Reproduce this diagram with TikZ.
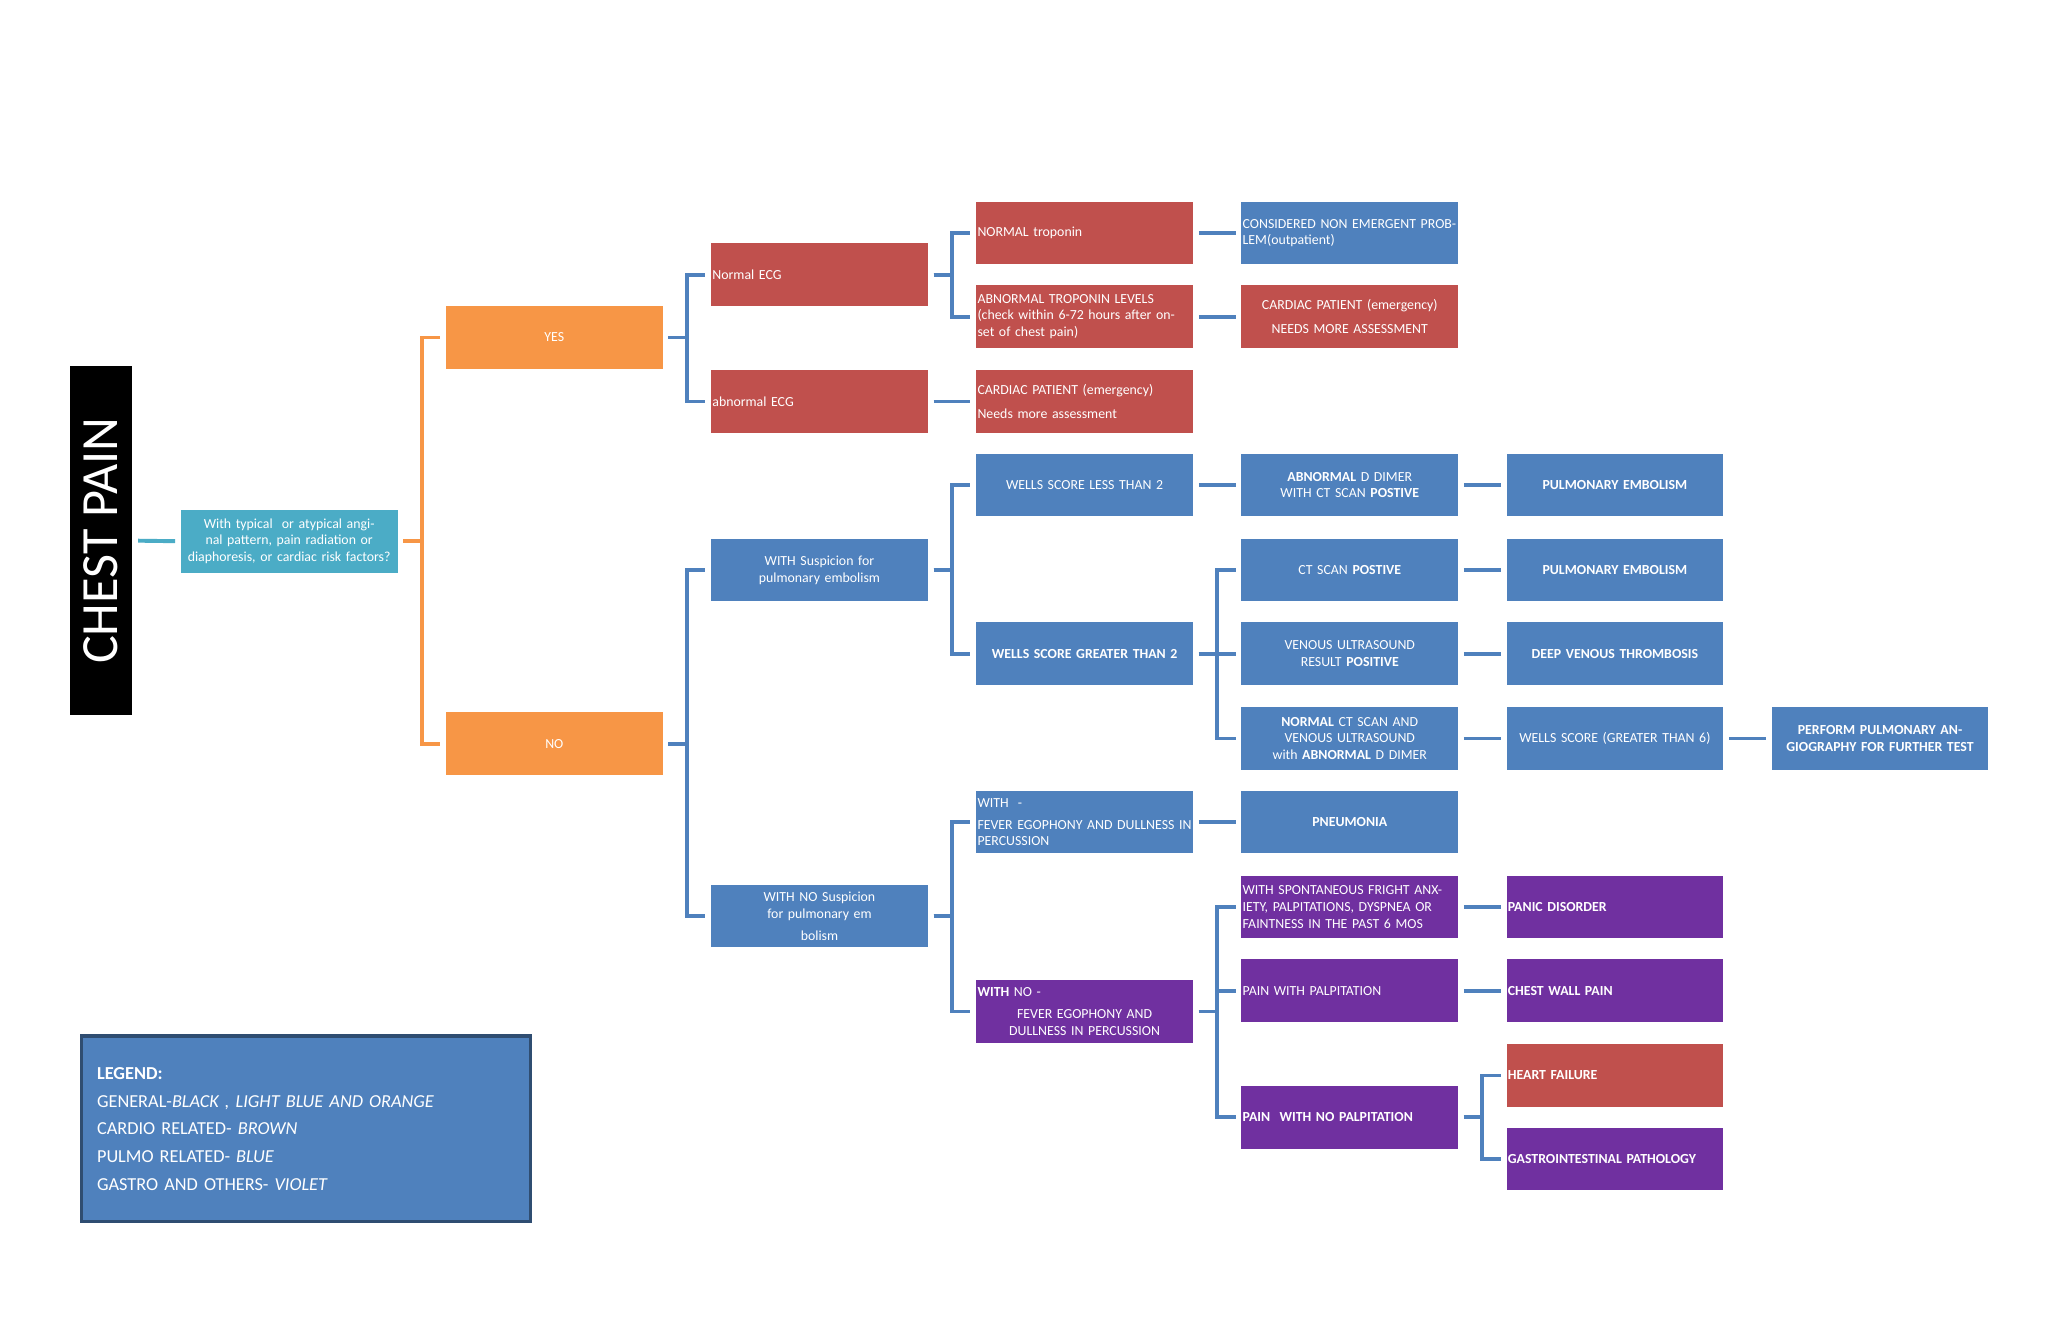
\documentclass[tikz,border=0pt]{standalone}
\usepackage{fontspec}
\setmainfont{Carlito}
\definecolor{cred}{HTML}{C0504D}
\definecolor{cblue}{HTML}{4F81BD}
\definecolor{cviol}{HTML}{7030A0}
\definecolor{corange}{HTML}{F79646}
\definecolor{cteal}{HTML}{4BACC6}
\begin{document}
\begin{tikzpicture}[x=0.5pt,y=-0.5pt,
  box/.style={anchor=north west,minimum width=83pt,minimum height=24pt,inner sep=0.5pt,text=white,font=\fontsize{5.3}{6.4}\selectfont,text width=82pt,align=center},
  lbox/.style={box,align=left},
  ln/.style={draw=cblue,line width=1.5pt,shorten <=2pt,shorten >=2pt},
  lo/.style={ln,draw=corange}]
\useasboundingbox (0,0) rectangle (1568,1025);
\fill[white] (0,0) rectangle (1568,1025);
\node[anchor=north west,fill=black,minimum width=24pt,minimum height=133.5pt,inner sep=0pt] (cp) at (53,280) {};
\node[rotate=90,text=white,font=\fontsize{20}{22}\selectfont] at (cp.center) {CHEST PAIN};
\node[box,fill=cteal] (intro) at (138,390) {With typical \ or atypical anginal pattern, pain radiation or diaphoresis, or cardiac risk factors?};
\node[box,fill=corange] (yes) at (341,234) {YES};
\node[box,fill=corange] (no) at (341,545) {NO};
\node[lbox,fill=cred] (necg) at (544,186) {Normal ECG};
\node[lbox,fill=cred] (aecg) at (544,283) {abnormal ECG};
\node[lbox,fill=cred] (ntrop) at (747,154) {NORMAL troponin};
\node[lbox,fill=cred] (atrop) at (747,218) {ABNORMAL TROPONIN LEVELS (check within 6-72 hours after onset of chest pain)};
\node[lbox,fill=cred] (cpa) at (747,283) {CARDIAC PATIENT (emergency)\\[3pt]Needs more assessment};
\node[lbox,fill=cblue] (nonem) at (950,154) {CONSIDERED NON EMERGENT PROBLEM(outpatient)};
\node[box,fill=cred] (cpb) at (950,218) {CARDIAC PATIENT (emergency)\\[3pt]NEEDS MORE ASSESSMENT};
\node[box,fill=cblue] (wsp) at (544,412) {WITH Suspicion for pulmonary embolism};
\node[box,fill=cblue] (wnsp) at (544,677) {WITH NO Suspicion for pulmonary em\\[2pt]bolism};
\node[box,fill=cblue] (wl2) at (747,347) {WELLS SCORE LESS THAN 2};
\node[box,fill=cblue] (wg2) at (747,476) {\textbf{WELLS SCORE GREATER THAN 2}};
\node[box,fill=cblue] (dd) at (950,347) {\textbf{ABNORMAL} D DIMER WITH CT SCAN \textbf{POSTIVE}};
\node[box,fill=cblue] (pe1) at (1153,347) {\textbf{PULMONARY EMBOLISM}};
\node[box,fill=cblue] (ct) at (950,412) {CT SCAN \textbf{POSTIVE}};
\node[box,fill=cblue] (pe2) at (1153,412) {\textbf{PULMONARY EMBOLISM}};
\node[box,fill=cblue] (vus) at (950,476) {VENOUS ULTRASOUND RESULT \textbf{POSITIVE}};
\node[box,fill=cblue] (dvt) at (1153,476) {\textbf{DEEP VENOUS THROMBOSIS}};
\node[box,fill=cblue] (nct) at (950,541) {\textbf{NORMAL} CT SCAN AND VENOUS ULTRASOUND with \textbf{ABNORMAL} D DIMER};
\node[box,fill=cblue] (w6) at (1153,541) {WELLS SCORE (GREATER THAN 6)};
\node[box,fill=cblue] (perf) at (1356,541) {\textbf{PERFORM PULMONARY ANGIOGRAPHY FOR FURTHER TEST}};
\node[lbox,fill=cblue] (wf) at (747,605) {WITH \ -\\[2pt]FEVER EGOPHONY AND DULLNESS IN PERCUSSION};
\node[box,fill=cblue] (pn) at (950,605) {\textbf{PNEUMONIA}};
\node[box,fill=cviol] (wnf) at (747,750) {\raggedright\textbf{WITH} NO -\\[2pt]\centering FEVER EGOPHONY AND DULLNESS IN PERCUSSION};
\node[lbox,fill=cviol] (spon) at (950,670) {WITH SPONTANEOUS FRIGHT ANXIETY, PALPITATIONS, DYSPNEA OR FAINTNESS IN THE PAST 6 MOS};
\node[lbox,fill=cviol] (panic) at (1153,670) {\textbf{PANIC DISORDER}};
\node[lbox,fill=cviol] (pwp) at (950,734) {PAIN WITH PALPITATION};
\node[lbox,fill=cviol] (cwp) at (1153,734) {\textbf{CHEST WALL PAIN}};
\node[lbox,fill=cviol] (pnp) at (950,831) {\textbf{PAIN \ WITH NO PALPITATION}};
\node[lbox,fill=cred] (hf) at (1153,799) {\textbf{HEART FAILURE}};
\node[lbox,fill=cviol] (gi) at (1153,863) {\textbf{GASTROINTESTINAL PATHOLOGY}};
\node[anchor=north west,fill=cblue,draw=cblue!60!black,line width=1.3pt,minimum width=171.5pt,minimum height=71pt,text width=160pt,align=left,text=white,font=\fontsize{7}{10.6}\selectfont,inner sep=6pt] (leg) at (61,792) {\textbf{LEGEND:}\\GENERAL-\textit{BLACK , LIGHT BLUE AND ORANGE}\\CARDIO RELATED- \textit{BROWN}\\PULMO RELATED- \textit{BLUE}\\GASTRO AND OTHERS- \textit{VIOLET}};
% connectors
\draw[ln,draw=cteal] (cp.east) -- (intro.west);
\foreach \c in {yes,no} \draw[lo] (intro.east) -- ++(18,0) |- (\c.west);
\foreach \c in {necg,aecg} \draw[ln] (yes.east) -- ++(18,0) |- (\c.west);
\foreach \c in {ntrop,atrop} \draw[ln] (necg.east) -- ++(18,0) |- (\c.west);
\draw[ln] (aecg) -- (cpa);
\draw[ln] (ntrop) -- (nonem);
\draw[ln] (atrop) -- (cpb);
\foreach \c in {wsp,wnsp} \draw[ln] (no.east) -- ++(18,0) |- (\c.west);
\foreach \c in {wl2,wg2} \draw[ln] (wsp.east) -- ++(18,0) |- (\c.west);
\draw[ln] (wl2) -- (dd); \draw[ln] (dd) -- (pe1);
\foreach \c in {ct,vus,nct} \draw[ln] (wg2.east) -- ++(18,0) |- (\c.west);
\draw[ln] (ct) -- (pe2); \draw[ln] (vus) -- (dvt); \draw[ln] (nct) -- (w6); \draw[ln] (w6) -- (perf);
\foreach \c in {wf,wnf} \draw[ln] (wnsp.east) -- ++(18,0) |- (\c.west);
\draw[ln] (wf) -- (pn);
\foreach \c in {spon,pwp,pnp} \draw[ln] (wnf.east) -- ++(18,0) |- (\c.west);
\draw[ln] (spon) -- (panic); \draw[ln] (pwp) -- (cwp);
\foreach \c in {hf,gi} \draw[ln] (pnp.east) -- ++(18,0) |- (\c.west);
\end{tikzpicture}
\end{document}
